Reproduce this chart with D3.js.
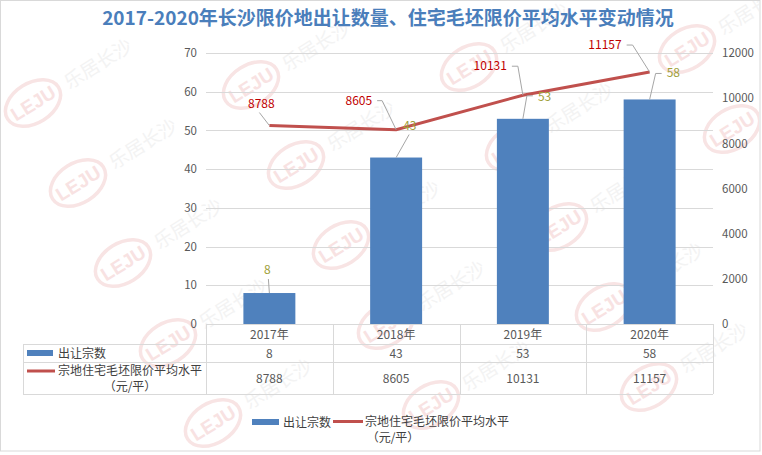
<!DOCTYPE html>
<html>
<head>
<meta charset="utf-8">
<script src="https://cdn.jsdelivr.net/npm/d3@7"></script>
<style>
    body { margin: 0; background: #fff; }
    svg { display: block; font-family: "Microsoft YaHei", "Noto Sans CJK SC", sans-serif; }
</style>
</head>
<body>
<div id="chart"></div>
<script>
// data
const years = ['2017年', '2018年', '2019年', '2020年'];
const deals = [8, 43, 53, 58];
const prices = [8788, 8605, 10131, 11157];
const leftTicks = [0, 10, 20, 30, 40, 50, 60, 70];
const rightTicks = [0, 2000, 4000, 6000, 8000, 10000, 12000];
const barName = '出让宗数';
const lineName = ['宗地住宅毛坯限价平均水平', '（元/平）'];
const title = '2017-2020年长沙限价地出让数量、住宅毛坯限价平均水平变动情况';

// label placement (dx, dy from the mark, elbow for leader line)
const lineLabelPos = [
    { dx: -8, dy: -18, anchor: 'middle', elbow: [-10, -13] },
    { dx: -24, dy: -25, anchor: 'end', elbow: [-14, -29] },
    { dx: -16, dy: -25, anchor: 'end', elbow: [-5, -29] },
    { dx: -28, dy: -23, anchor: 'end', elbow: [-17, -27] }
];
const barLabelPos = [
    { dx: -2, dy: -19, anchor: 'middle', elbow: [-1, -14], line: false },
    { dx: 7, dy: -28, anchor: 'start', elbow: [13, -23], line: false },
    { dx: 15, dy: -18, anchor: 'start', elbow: [4, -23], line: true },
    { dx: 17, dy: -22, anchor: 'start', elbow: [6, -26], line: true }
];

const W = 762, H = 455;
const plot = { left: 206, right: 713, top: 53, bottom: 324 };
const barColor = '#4f81bd', lineColor = '#c0504d';
const gridColor = '#d9d9d9', textColor = '#595959';

const svg = d3.select('#chart').append('svg')
    .attr('width', W)
    .attr('height', H);

// outer border
svg.append('rect')
    .attr('x', 0.5).attr('y', 0.5)
    .attr('width', 759.5).attr('height', 450.5)
    .attr('fill', '#fff')
    .attr('stroke', '#d9d9d9');

// watermarks, kept faint and clipped to the frame
svg.append('clipPath').attr('id', 'frame')
    .append('rect').attr('x', 1).attr('y', 1).attr('width', 758).attr('height', 449);
const wm = svg.append('g').attr('class', 'watermark').attr('clip-path', 'url(#frame)');
for (let i = -3; i <= 4; i++) {
    for (let j = -3; j <= 6; j++) {
        const x = 33 + i * 218 + j * 45;
        const y = 103 - i * 18 + j * 80;
        if (x < 10 || x > W - 20 || y < 20 || y > H - 10) continue;
        const m = wm.append('g').attr('transform', `translate(${x},${y}) rotate(-32)`);
        m.append('ellipse')
            .attr('rx', 30).attr('ry', 20)
            .attr('fill', 'none')
            .attr('stroke', '#f8e4e4')
            .attr('stroke-width', 3.5);
        m.append('text')
            .attr('text-anchor', 'middle')
            .attr('y', 7)
            .attr('font-size', 19)
            .attr('font-weight', 'bold')
            .attr('font-family', 'Arial, sans-serif')
            .attr('fill', '#f8e2e2')
            .text('LEJU');
        m.append('text')
            .attr('x', 38).attr('y', 8)
            .attr('font-size', 19)
            .attr('fill', '#f3f3f3')
            .text('乐居长沙');
    }
}

// scales
const x = d3.scaleBand().domain(years).range([plot.left, plot.right]);
const yL = d3.scaleLinear().domain([0, 70]).range([plot.bottom, plot.top]);
const yR = d3.scaleLinear().domain([0, 12000]).range([plot.bottom, plot.top]);
const barW = x.bandwidth() * 0.41;
const cx = d => x(d) + x.bandwidth() / 2;

// gridlines
svg.append('g')
    .selectAll('line')
    .data(leftTicks.slice(1))
    .join('line')
    .attr('x1', plot.left).attr('x2', plot.right)
    .attr('y1', d => Math.round(yL(d)) + 0.5)
    .attr('y2', d => Math.round(yL(d)) + 0.5)
    .attr('stroke', gridColor);

// left axis
const leftAxis = svg.append('g')
    .attr('transform', `translate(${plot.left - 9},0)`)
    .call(d3.axisLeft(yL).tickValues(leftTicks).tickSize(0).tickPadding(0));
leftAxis.select('.domain').remove();
leftAxis.selectAll('text')
    .attr('fill', textColor)
    .attr('font-size', 11.5)
    .attr('font-family', '"Microsoft YaHei", "Noto Sans CJK SC", sans-serif');

// right axis
const rightAxis = svg.append('g')
    .attr('transform', `translate(${plot.right + 9},0)`)
    .call(d3.axisRight(yR).tickValues(rightTicks).tickFormat(d3.format('d')).tickSize(0).tickPadding(0));
rightAxis.select('.domain').remove();
rightAxis.selectAll('text')
    .attr('fill', textColor)
    .attr('font-size', 11.5)
    .attr('font-family', '"Microsoft YaHei", "Noto Sans CJK SC", sans-serif');

// bars
svg.append('g')
    .selectAll('rect')
    .data(deals)
    .join('rect')
    .attr('x', (d, i) => cx(years[i]) - barW / 2)
    .attr('y', d => yL(d))
    .attr('width', barW)
    .attr('height', d => yL(0) - yL(d))
    .attr('fill', barColor);

// table grid
const table = { left: 23, r1: 344, r2: 362, r3: 394 };
const tg = svg.append('g').attr('stroke', gridColor).attr('fill', 'none');
[plot.bottom, table.r1, table.r2, table.r3].forEach((yy, k) => {
    tg.append('line')
        .attr('x1', k === 0 ? plot.left : table.left).attr('x2', plot.right)
        .attr('y1', yy + 0.5).attr('y2', yy + 0.5);
});
tg.append('line')
    .attr('x1', table.left + 0.5).attr('x2', table.left + 0.5)
    .attr('y1', table.r1).attr('y2', table.r3);
x.domain().concat([null]).forEach(c => {
    const xx = c === null ? plot.right : x(c);
    tg.append('line')
        .attr('x1', Math.round(xx) + 0.5).attr('x2', Math.round(xx) + 0.5)
        .attr('y1', plot.bottom).attr('y2', table.r3);
});

// table text
const tt = svg.append('g').attr('fill', textColor).attr('font-size', 12).attr('text-anchor', 'middle');
years.forEach((yr, i) => {
    tt.append('text').attr('x', cx(yr)).attr('y', 339).text(yr);
    tt.append('text').attr('x', cx(yr)).attr('y', 358).text(deals[i]);
    tt.append('text').attr('x', cx(yr)).attr('y', 383).text(prices[i]);
});
svg.append('rect').attr('x', 27).attr('y', 350).attr('width', 26).attr('height', 6).attr('fill', barColor);
svg.append('line').attr('x1', 27).attr('x2', 55).attr('y1', 371).attr('y2', 371)
    .attr('stroke', lineColor).attr('stroke-width', 3);
svg.append('text').attr('x', 58).attr('y', 358).attr('font-size', 12).attr('fill', '#404040').text(barName);
svg.append('text').attr('x', 58).attr('y', 375).attr('font-size', 12).attr('fill', '#404040').text(lineName[0]);
svg.append('text').attr('x', 130).attr('y', 391).attr('font-size', 12).attr('fill', '#404040')
    .attr('text-anchor', 'middle').text(lineName[1]);

// line
const line = d3.line()
    .x((d, i) => cx(years[i]))
    .y(d => yR(d));
svg.append('path')
    .datum(prices)
    .attr('d', line)
    .attr('fill', 'none')
    .attr('stroke', lineColor)
    .attr('stroke-width', 3);

// leader lines and labels
const leaders = svg.append('g').attr('stroke', '#a6a6a6').attr('fill', 'none');
prices.forEach((p, i) => {
    const px = cx(years[i]), py = yR(p), o = lineLabelPos[i];
    const pts = o.anchor === 'middle'
        ? [[px + o.elbow[0], py + o.elbow[1]], [px, py]]
        : [[px + o.dx + 5, py + o.elbow[1]], [px + o.elbow[0], py + o.elbow[1]], [px, py]];
    leaders.append('path').attr('d', d3.line()(pts));
    svg.append('text')
        .attr('x', px + o.dx).attr('y', py + o.dy)
        .attr('text-anchor', o.anchor)
        .attr('font-size', 12)
        .attr('fill', '#c00000')
        .text(p);
});
deals.forEach((v, i) => {
    const px = cx(years[i]), py = yL(v), o = barLabelPos[i];
    const pts = o.line
        ? [[px + o.dx - 5, py + o.elbow[1]], [px + o.elbow[0], py + o.elbow[1]], [px, py]]
        : [[px + o.elbow[0], py + o.elbow[1]], [px, py]];
    leaders.append('path').attr('d', d3.line()(pts));
    svg.append('text')
        .attr('x', px + o.dx).attr('y', py + o.dy)
        .attr('text-anchor', o.anchor)
        .attr('font-size', 12)
        .attr('fill', '#a0a038')
        .text(v);
});

// bottom legend
const lg = svg.append('g').attr('font-size', 12).attr('fill', '#404040');
lg.append('rect').attr('x', 252).attr('y', 419).attr('width', 27).attr('height', 6).attr('fill', barColor);
lg.append('text').attr('x', 283).attr('y', 427).text(barName);
lg.append('line').attr('x1', 333).attr('x2', 363).attr('y1', 421.5).attr('y2', 421.5)
    .attr('stroke', lineColor).attr('stroke-width', 3);
lg.append('text').attr('x', 365).attr('y', 426).text(lineName[0]);
lg.append('text').attr('x', 393).attr('y', 442).attr('text-anchor', 'middle').text(lineName[1]);

// title
svg.append('text')
    .attr('x', 388).attr('y', 25)
    .attr('text-anchor', 'middle')
    .attr('font-size', 19)
    .attr('font-weight', 'bold')
    .attr('fill', '#4a7ebb')
    .text(title);
</script>
</body>
</html>
